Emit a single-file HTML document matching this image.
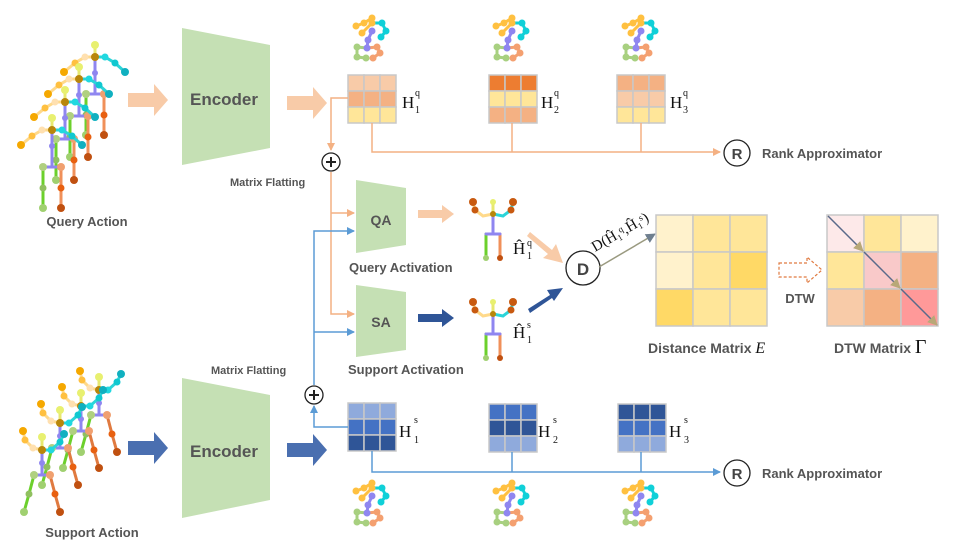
<!DOCTYPE html>
<html><head><meta charset="utf-8"><style>
body{margin:0;background:#fff;}
svg{display:block;}
text{font-family:"Liberation Sans",sans-serif;}
.b{font-weight:bold;fill:#555;}
.s{font-family:"Liberation Serif",serif;fill:#111;}
</style></head><body>
<svg width="960" height="556" viewBox="0 0 960 556" xmlns="http://www.w3.org/2000/svg">
<defs>
<marker id="ao" markerWidth="8" markerHeight="8" refX="7" refY="4" orient="auto" markerUnits="userSpaceOnUse"><path d="M0,0 L8,4 L0,8z" fill="#f4b183"/></marker>
<marker id="ab" markerWidth="8" markerHeight="8" refX="7" refY="4" orient="auto" markerUnits="userSpaceOnUse"><path d="M0,0 L8,4 L0,8z" fill="#5b9bd5"/></marker>
<marker id="ag" markerWidth="10" markerHeight="10" refX="9" refY="5" orient="auto" markerUnits="userSpaceOnUse"><path d="M0,0 L10,5 L0,10z" fill="#6f7f8f"/></marker>
<marker id="ak" markerWidth="10" markerHeight="10" refX="9" refY="5" orient="auto" markerUnits="userSpaceOnUse"><path d="M0,0 L10,5 L0,10z" fill="#b8a878"/></marker>
<g id="sk">
<g stroke-width="3" fill="none" stroke-linecap="round">
<line x1="0" y1="0" x2="0" y2="12" stroke="#e8e870"/>
<polyline points="0,12 -10,12 -20,18 -31,27" stroke="#ffd98a"/>
<polyline points="0,12 10,12 20,18 30,27" stroke="#2cd4d8"/>
<line x1="0" y1="12" x2="0" y2="49" stroke="#8f86f0"/>
<polyline points="-9,49 -9,70 -9,90" stroke="#6cd02c"/>
<polyline points="9,49 9,70 9,90" stroke="#f0905a"/>
<line x1="-9" y1="49" x2="9" y2="49" stroke="#8f86f0"/>
</g>
<circle cx="0" cy="0" r="4" fill="#e8f070"/><circle cx="0" cy="12" r="4" fill="#b8860b"/>
<circle cx="-10" cy="12" r="3.5" fill="#ffe0b0"/><circle cx="-20" cy="18" r="3.5" fill="#ffc040"/><circle cx="-31" cy="27" r="4" fill="#f5a800"/>
<circle cx="10" cy="12" r="3.5" fill="#20d8e0"/><circle cx="20" cy="18" r="3.5" fill="#10c8d0"/><circle cx="30" cy="27" r="4" fill="#10b0c0"/>
<circle cx="0" cy="28" r="3" fill="#8f86f0"/><circle cx="-9" cy="49" r="4" fill="#b0d080"/><circle cx="9" cy="49" r="4" fill="#f0a070"/>
<circle cx="-9" cy="70" r="3.5" fill="#90c060"/><circle cx="9" cy="70" r="3.5" fill="#e86010"/>
<circle cx="-9" cy="90" r="4" fill="#a0d070"/><circle cx="9" cy="90" r="4" fill="#c05010"/>
</g>
<g id="skS">
<g stroke-width="3" fill="none" stroke-linecap="round">
<line x1="0" y1="0" x2="0" y2="13" stroke="#e8e870"/>
<polyline points="0,13 -9,11 -17,3 -19,-6" stroke="#ffd98a"/>
<polyline points="0,13 9,13 18,5 22,-3" stroke="#2cd4d8"/>
<line x1="0" y1="13" x2="0" y2="38" stroke="#8f86f0"/>
<polyline points="-8,38 -13,57 -18,75" stroke="#6cd02c"/>
<polyline points="8,38 13,57 18,75" stroke="#e07a40"/>
<line x1="-8" y1="38" x2="8" y2="38" stroke="#8f86f0"/>
</g>
<circle cx="0" cy="0" r="4" fill="#e8f070"/><circle cx="0" cy="13" r="4" fill="#b8860b"/>
<circle cx="-9" cy="11" r="3.5" fill="#ffe0b0"/><circle cx="-17" cy="3" r="3.5" fill="#ffc040"/><circle cx="-19" cy="-6" r="4" fill="#f5a800"/>
<circle cx="9" cy="13" r="3.5" fill="#20d8e0"/><circle cx="18" cy="5" r="3.5" fill="#10c8d0"/><circle cx="22" cy="-3" r="4" fill="#10b0c0"/>
<circle cx="0" cy="26" r="3" fill="#8f86f0"/><circle cx="-8" cy="38" r="4" fill="#b0d080"/><circle cx="8" cy="38" r="4" fill="#f0a070"/>
<circle cx="-13" cy="57" r="3.5" fill="#90c060"/><circle cx="13" cy="57" r="3.5" fill="#e86010"/>
<circle cx="-18" cy="75" r="4" fill="#a0d070"/><circle cx="18" cy="75" r="4" fill="#c05010"/>
</g>
<g id="blob">
<g stroke-width="3" fill="none" stroke-linecap="round">
<polyline points="16,21 24,18 32,13" stroke="#ffc040"/>
<polyline points="32,18 22,28" stroke="#ffc040"/>
<polyline points="32,18 42,18 46,26 41,32" stroke="#10d0d8"/>
<polyline points="32,26 28,35 27,43" stroke="#8f86f0"/>
<polyline points="27,43 17,42 17,52 26,53" stroke="#a8d080"/>
<polyline points="27,43 37,42 40,48 33,53" stroke="#f4a070"/>
</g>
<g fill="#ffc040"><circle cx="16" cy="21" r="3.5"/><circle cx="24" cy="18" r="3.5"/><circle cx="32" cy="13" r="3.5"/><circle cx="32" cy="18" r="3.5"/><circle cx="22" cy="28" r="3.5"/></g>
<g fill="#10d0d8"><circle cx="42" cy="18" r="3.5"/><circle cx="46" cy="26" r="3.5"/><circle cx="41" cy="32" r="3.5"/></g>
<g fill="#8f86f0"><circle cx="32" cy="26" r="3.5"/><circle cx="28" cy="35" r="3.5"/><circle cx="27" cy="43" r="3.5"/></g>
<g fill="#a8d080"><circle cx="17" cy="42" r="3.5"/><circle cx="17" cy="52" r="3.5"/><circle cx="26" cy="53" r="3.5"/></g>
<g fill="#f4a070"><circle cx="37" cy="42" r="3.5"/><circle cx="40" cy="48" r="3.5"/><circle cx="33" cy="53" r="3.5"/></g>
</g>
<g id="sk2">
<g stroke-width="3" fill="none" stroke-linecap="round">
<line x1="0" y1="0" x2="0" y2="12" stroke="#e8e870"/>
<polyline points="0,12 -10,14 -18,8 -20,0" stroke="#ffd98a"/>
<polyline points="0,12 10,14 18,8 20,0" stroke="#2cd4d8"/>
<line x1="0" y1="12" x2="0" y2="32" stroke="#8f86f0"/>
<polyline points="-7,32 -7,45 -7,56" stroke="#6cd02c"/>
<polyline points="7,32 7,45 7,56" stroke="#f0905a"/>
<line x1="-7" y1="32" x2="7" y2="32" stroke="#8f86f0"/>
</g>
<circle cx="0" cy="0" r="3" fill="#e8f070"/><circle cx="0" cy="12" r="3" fill="#b8860b"/>
<circle cx="-20" cy="0" r="4" fill="#c85a10"/><circle cx="20" cy="0" r="4" fill="#c85a10"/>
<circle cx="-18" cy="8" r="3.5" fill="#c85a10"/><circle cx="18" cy="8" r="3.5" fill="#c85a10"/>
<circle cx="-7" cy="56" r="3" fill="#a0d070"/><circle cx="7" cy="56" r="3" fill="#c05010"/>
</g>
</defs>

<use href="#sk" x="95" y="45"/><use href="#sk" x="79" y="67"/><use href="#sk" x="65" y="90"/><use href="#sk" x="52" y="118"/>
<text x="87" y="226" class="b" font-size="13" text-anchor="middle">Query Action</text>
<use href="#skS" x="99" y="377"/><use href="#skS" x="81" y="393"/><use href="#skS" x="60" y="410"/><use href="#skS" x="42" y="437"/>
<text x="92" y="537" class="b" font-size="13" text-anchor="middle">Support Action</text>

<path d="M128,93 h26 v-9 l14,16 -14,16 v-9 h-26z" fill="#f8cba8"/>
<path d="M287,96 h26 v-9 l14,16 -14,16 v-9 h-26z" fill="#f8cba8"/>
<path d="M128,441 h26 v-9 l14,16 -14,16 v-9 h-26z" fill="#4a6fb0"/>
<path d="M287,443 h26 v-9 l14,16 -14,16 v-9 h-26z" fill="#4a6fb0"/>

<path d="M182,28 L270,45 L270,148 L182,165z" fill="#c5e0b4"/>
<text x="224" y="105" class="b" font-size="17" text-anchor="middle">Encoder</text>
<path d="M182,378 L270,395 L270,500 L182,518z" fill="#c5e0b4"/>
<text x="224" y="457" class="b" font-size="17" text-anchor="middle">Encoder</text>

<g stroke="#c8c8c8" stroke-width="1.5">
<rect x="348" y="75" width="16" height="16" fill="#f8cba8"/><rect x="364" y="75" width="16" height="16" fill="#f8cba8"/><rect x="380" y="75" width="16" height="16" fill="#f8cba8"/>
<rect x="348" y="91" width="16" height="16" fill="#f4b183"/><rect x="364" y="91" width="16" height="16" fill="#f4b183"/><rect x="380" y="91" width="16" height="16" fill="#f4b183"/>
<rect x="348" y="107" width="16" height="16" fill="#ffe699"/><rect x="364" y="107" width="16" height="16" fill="#ffe699"/><rect x="380" y="107" width="16" height="16" fill="#ffe699"/>
<rect x="489" y="75" width="16" height="16" fill="#ed7d31"/><rect x="505" y="75" width="16" height="16" fill="#ed7d31"/><rect x="521" y="75" width="16" height="16" fill="#ed7d31"/>
<rect x="489" y="91" width="16" height="16" fill="#ffe699"/><rect x="505" y="91" width="16" height="16" fill="#ffe699"/><rect x="521" y="91" width="16" height="16" fill="#ffe699"/>
<rect x="489" y="107" width="16" height="16" fill="#f4b183"/><rect x="505" y="107" width="16" height="16" fill="#f4b183"/><rect x="521" y="107" width="16" height="16" fill="#f4b183"/>
<rect x="617" y="75" width="16" height="16" fill="#f4b183"/><rect x="633" y="75" width="16" height="16" fill="#f4b183"/><rect x="649" y="75" width="16" height="16" fill="#f4b183"/>
<rect x="617" y="91" width="16" height="16" fill="#f8cba8"/><rect x="633" y="91" width="16" height="16" fill="#f8cba8"/><rect x="649" y="91" width="16" height="16" fill="#f8cba8"/>
<rect x="617" y="107" width="16" height="16" fill="#ffe699"/><rect x="633" y="107" width="16" height="16" fill="#ffe699"/><rect x="649" y="107" width="16" height="16" fill="#ffe699"/>
</g>
<text x="402" y="108" class="s" font-size="17">H</text><text x="415" y="96" class="s" font-size="10">q</text><text x="415" y="113" class="s" font-size="10">1</text>
<text x="541" y="108" class="s" font-size="17">H</text><text x="554" y="96" class="s" font-size="10">q</text><text x="554" y="113" class="s" font-size="10">2</text>
<text x="670" y="108" class="s" font-size="17">H</text><text x="683" y="96" class="s" font-size="10">q</text><text x="683" y="113" class="s" font-size="10">3</text>

<g stroke="#c8c8c8" stroke-width="1.5">
<rect x="348" y="403" width="16" height="16" fill="#8faadc"/><rect x="364" y="403" width="16" height="16" fill="#8faadc"/><rect x="380" y="403" width="16" height="16" fill="#8faadc"/>
<rect x="348" y="419" width="16" height="16" fill="#4472c4"/><rect x="364" y="419" width="16" height="16" fill="#4472c4"/><rect x="380" y="419" width="16" height="16" fill="#4472c4"/>
<rect x="348" y="435" width="16" height="16" fill="#2f5597"/><rect x="364" y="435" width="16" height="16" fill="#2f5597"/><rect x="380" y="435" width="16" height="16" fill="#2f5597"/>
<rect x="489" y="404" width="16" height="16" fill="#4472c4"/><rect x="505" y="404" width="16" height="16" fill="#4472c4"/><rect x="521" y="404" width="16" height="16" fill="#4472c4"/>
<rect x="489" y="420" width="16" height="16" fill="#2f5597"/><rect x="505" y="420" width="16" height="16" fill="#2f5597"/><rect x="521" y="420" width="16" height="16" fill="#2f5597"/>
<rect x="489" y="436" width="16" height="16" fill="#8faadc"/><rect x="505" y="436" width="16" height="16" fill="#8faadc"/><rect x="521" y="436" width="16" height="16" fill="#8faadc"/>
<rect x="618" y="404" width="16" height="16" fill="#2f5597"/><rect x="634" y="404" width="16" height="16" fill="#2f5597"/><rect x="650" y="404" width="16" height="16" fill="#2f5597"/>
<rect x="618" y="420" width="16" height="16" fill="#4472c4"/><rect x="634" y="420" width="16" height="16" fill="#4472c4"/><rect x="650" y="420" width="16" height="16" fill="#4472c4"/>
<rect x="618" y="436" width="16" height="16" fill="#8faadc"/><rect x="634" y="436" width="16" height="16" fill="#8faadc"/><rect x="650" y="436" width="16" height="16" fill="#8faadc"/>
</g>
<text x="399" y="437" class="s" font-size="17">H</text><text x="414" y="423" class="s" font-size="10">s</text><text x="414" y="443" class="s" font-size="10">1</text>
<text x="538" y="437" class="s" font-size="17">H</text><text x="553" y="423" class="s" font-size="10">s</text><text x="553" y="443" class="s" font-size="10">2</text>
<text x="669" y="437" class="s" font-size="17">H</text><text x="684" y="423" class="s" font-size="10">s</text><text x="684" y="443" class="s" font-size="10">3</text>

<use href="#blob" x="340" y="5"/><use href="#blob" x="480" y="5"/><use href="#blob" x="609" y="5"/>
<use href="#blob" x="340" y="470"/><use href="#blob" x="480" y="470"/><use href="#blob" x="609" y="470"/>

<g fill="none" stroke="#f4b183" stroke-width="1.5">
<polyline points="372,123 372,152 720,152" marker-end="url(#ao)"/>
<line x1="512" y1="123" x2="512" y2="152"/><line x1="641" y1="123" x2="641" y2="152"/>
<polyline points="348,98 331,98 331,150" marker-end="url(#ao)"/>
<polyline points="331,172 331,314 354,314" marker-end="url(#ao)"/>
<polyline points="331,213 354,213" marker-end="url(#ao)"/>
</g>
<g fill="none" stroke="#5b9bd5" stroke-width="1.5">
<polyline points="372,451 372,472 720,472" marker-end="url(#ab)"/>
<line x1="512" y1="452" x2="512" y2="472"/><line x1="641" y1="452" x2="641" y2="472"/>
<polyline points="348,427 314,427 314,406" marker-end="url(#ab)"/>
<polyline points="314,385 314,231 354,231" marker-end="url(#ab)"/>
<polyline points="314,332 354,332" marker-end="url(#ab)"/>
</g>
<g fill="#fff" stroke="#222" stroke-width="1.3">
<circle cx="331" cy="162" r="9"/><circle cx="314" cy="395" r="9"/>
<circle cx="737" cy="153" r="13"/><circle cx="737" cy="473" r="13"/>
<circle cx="583" cy="268" r="17"/>
</g>
<path d="M326,162h10M331,157v10M309,395h10M314,390v10" stroke="#222" stroke-width="2"/>
<text x="737" y="159" font-size="15" font-weight="bold" fill="#444" text-anchor="middle">R</text>
<text x="737" y="479" font-size="15" font-weight="bold" fill="#444" text-anchor="middle">R</text>
<text x="583" y="275" font-size="17" font-weight="bold" fill="#444" text-anchor="middle">D</text>
<text x="762" y="158" class="b" font-size="13">Rank Approximator</text>
<text x="762" y="478" class="b" font-size="13">Rank Approximator</text>
<text x="230" y="186" class="b" font-size="11">Matrix Flatting</text>
<text x="211" y="374" class="b" font-size="11">Matrix Flatting</text>

<path d="M356,180 L406,188 L406,245 L356,253z" fill="#c5e0b4"/>
<text x="381" y="225" class="b" font-size="14" text-anchor="middle">QA</text>
<path d="M356,285 L406,292 L406,350 L356,357z" fill="#c5e0b4"/>
<text x="381" y="327" class="b" font-size="14" text-anchor="middle">SA</text>
<text x="349" y="272" class="b" font-size="13">Query Activation</text>
<text x="348" y="374" class="b" font-size="13">Support  Activation</text>

<path d="M418,210 h24 v-5 l12,9 -12,9 v-5 h-24z" fill="#f8cba8"/>
<path d="M418,314 h24 v-5 l12,9 -12,9 v-5 h-24z" fill="#2f5597"/>
<use href="#sk2" transform="translate(493,202)"/>
<use href="#sk2" transform="translate(493,302)"/>
<path d="M530,232 L552,250 L556,244 L563,263 L543,258 L548,254 L527,236z" fill="#f8cba8"/>
<path d="M528,309 L550,295 L547,290 L563,288 L554,301 L552,298 L530,313z" fill="#2f5597"/>
<text x="513" y="254" class="s" font-size="17">Ĥ</text><text x="527" y="246" class="s" font-size="10">q</text><text x="527" y="259" class="s" font-size="10">1</text>
<text x="513" y="338" class="s" font-size="17">Ĥ</text><text x="527" y="328" class="s" font-size="10">s</text><text x="527" y="343" class="s" font-size="10">1</text>

<line x1="599" y1="267" x2="655" y2="234" stroke="#9a9a80" stroke-width="1.5" marker-end="url(#ag)"/>
<text transform="translate(595,252) rotate(-30)" class="s" font-size="15">D(Ĥ<tspan font-size="9" dy="3">1</tspan><tspan font-size="9" dy="-7">q</tspan><tspan dy="4">,Ĥ</tspan><tspan font-size="9" dy="3">1</tspan><tspan font-size="9" dy="-7">s</tspan><tspan dy="4">)</tspan></text>

<g stroke="#c8c8c8" stroke-width="1.5">
<rect x="656" y="215" width="37" height="37" fill="#fff2cc"/><rect x="693" y="215" width="37" height="37" fill="#ffe699"/><rect x="730" y="215" width="37" height="37" fill="#ffe699"/>
<rect x="656" y="252" width="37" height="37" fill="#fff2cc"/><rect x="693" y="252" width="37" height="37" fill="#ffe699"/><rect x="730" y="252" width="37" height="37" fill="#ffd966"/>
<rect x="656" y="289" width="37" height="37" fill="#ffd966"/><rect x="693" y="289" width="37" height="37" fill="#ffe699"/><rect x="730" y="289" width="37" height="37" fill="#ffe699"/>
<rect x="827" y="215" width="37" height="37" fill="#fde9e9"/><rect x="864" y="215" width="37" height="37" fill="#ffe699"/><rect x="901" y="215" width="37" height="37" fill="#fff2cc"/>
<rect x="827" y="252" width="37" height="37" fill="#ffe699"/><rect x="864" y="252" width="37" height="37" fill="#f9c9c9"/><rect x="901" y="252" width="37" height="37" fill="#f4b183"/>
<rect x="827" y="289" width="37" height="37" fill="#f8cba8"/><rect x="864" y="289" width="37" height="37" fill="#f4b183"/><rect x="901" y="289" width="37" height="37" fill="#ff9999"/>
</g>
<line x1="828" y1="216" x2="863" y2="251" stroke="#5a6a8a" stroke-width="1.5" marker-end="url(#ak)"/>
<line x1="864" y1="252" x2="900" y2="288" stroke="#5a6a8a" stroke-width="1.5" marker-end="url(#ak)"/>
<line x1="901" y1="289" x2="937" y2="325" stroke="#5a6a8a" stroke-width="1.5" marker-end="url(#ak)"/>
<path d="M779,263 h28 v-6 l15,13 -15,13 v-6 h-28z" fill="#fff" stroke="#e07a40" stroke-dasharray="3,2" stroke-width="1.2"/>
<text x="800" y="303" class="b" font-size="13" text-anchor="middle">DTW</text>
<text x="648" y="353" class="b" font-size="14">Distance Matrix <tspan class="s" font-style="italic" font-weight="normal" font-size="16" fill="#222">E</tspan></text>
<text x="834" y="353" class="b" font-size="14">DTW Matrix <tspan class="s" font-weight="normal" font-size="20" fill="#222">Γ</tspan></text>
</svg>
</body></html>
